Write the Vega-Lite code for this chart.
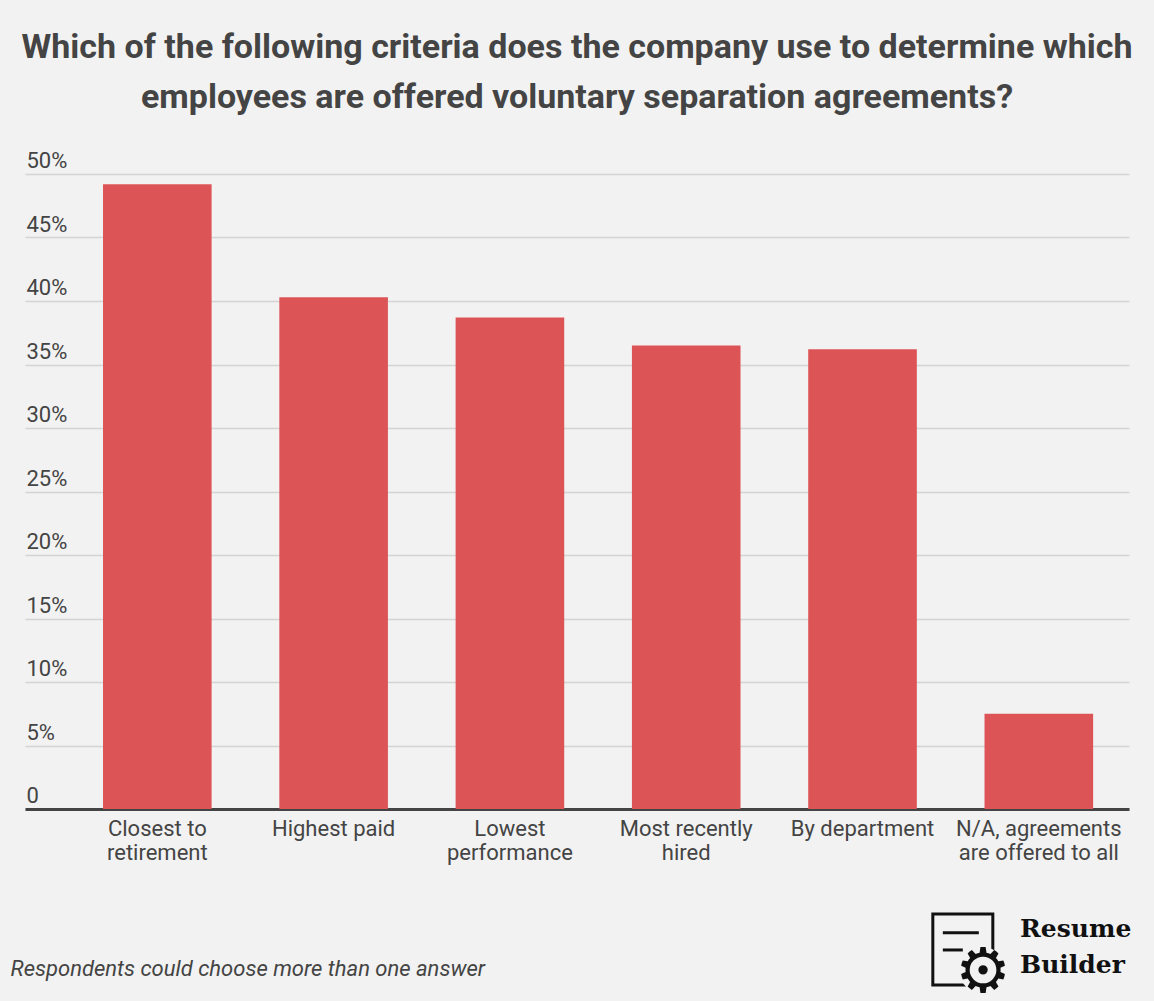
{
  "$schema": "https://vega.github.io/schema/vega-lite/v6.json",
  "width": 1104,
  "height": 635,
  "autosize": {"type": "none"},
  "padding": {"left": 25, "top": 174, "right": 25, "bottom": 192},
  "background": "#f2f2f2",
  "config": {"view": {"stroke": null}},
  "title": {
    "text": ["Which of the following criteria does the company use to determine which", "employees are offered voluntary separation agreements?"],
    "font": "Roboto",
    "fontSize": 34,
    "fontWeight": "bold",
    "color": "#444444",
    "anchor": "middle",
    "lineHeight": 50,
    "offset": 35
  },
  "data": {
    "values": [
      {"criterion": "Closest to\nretirement", "percent": 49.2},
      {"criterion": "Highest paid", "percent": 40.3},
      {"criterion": "Lowest\nperformance", "percent": 38.7},
      {"criterion": "Most recently\nhired", "percent": 36.5},
      {"criterion": "By department", "percent": 36.2},
      {"criterion": "N/A, agreements\nare offered to all", "percent": 7.5}
    ]
  },
  "layer": [
    {
      "mark": {"type": "bar", "color": "#dd5457"},
      "encoding": {
        "x": {
          "field": "criterion",
          "type": "nominal",
          "sort": null,
          "scale": {"paddingInner": 0.384, "paddingOuter": 0.323, "align": 0.685},
          "axis": {
            "title": "Respondents could choose more than one answer",
            "titleFont": "Roboto",
            "titleFontStyle": "italic",
            "titleFontWeight": "normal",
            "titleFontSize": 22,
            "titleColor": "#444444",
            "titleAnchor": "start",
            "titleAlign": "left",
            "titleBaseline": "alphabetic",
            "titleX": -15,
            "titleY": 166,
            "domainColor": "#444444",
            "domainWidth": 3,
            "ticks": false,
            "labelAngle": 0,
            "labelFont": "Roboto",
            "labelFontSize": 22,
            "labelColor": "#444444",
            "labelPadding": 9,
            "labelLineHeight": 24,
            "labelBaseline": "top",
            "labelExpr": "split(datum.label, '\\n')"
          }
        },
        "y": {
          "field": "percent",
          "type": "quantitative",
          "scale": {"domain": [0, 50]},
          "axis": {
            "title": null,
            "values": [0, 5, 10, 15, 20, 25, 30, 35, 40, 45, 50],
            "domain": false,
            "ticks": false,
            "grid": true,
            "gridColor": "#d4d4d4",
            "gridWidth": 1.5,
            "labelAlign": "left",
            "labelBaseline": "alphabetic",
            "labelPadding": -1,
            "labelOffset": -6.5,
            "labelFont": "Roboto",
            "labelFontSize": 22,
            "labelColor": "#444444",
            "labelExpr": "datum.value == 0 ? '0' : datum.value + '%'"
          }
        }
      }
    },
    {
      "data": {"values": [{"brand": "Resume Builder"}]},
      "layer": [
        {
          "mark": {"type": "rect", "filled": false, "stroke": "#111111", "strokeWidth": 3, "xOffset": -106, "x2Offset": -46},
          "encoding": {
            "x": {"datum": "N/A, agreements\nare offered to all"},
            "x2": {"datum": "N/A, agreements\nare offered to all"},
            "y": {"datum": -8.27},
            "y2": {"datum": -13.86}
          }
        },
        {
          "mark": {"type": "rule", "stroke": "#111111", "strokeWidth": 3, "xOffset": -96, "x2Offset": -60},
          "encoding": {
            "x": {"datum": "N/A, agreements\nare offered to all"},
            "x2": {"datum": "N/A, agreements\nare offered to all"},
            "y": {"datum": -9.74}
          }
        },
        {
          "mark": {"type": "rule", "stroke": "#111111", "strokeWidth": 3, "xOffset": -96, "x2Offset": -76},
          "encoding": {
            "x": {"datum": "N/A, agreements\nare offered to all"},
            "x2": {"datum": "N/A, agreements\nare offered to all"},
            "y": {"datum": -11.1}
          }
        },
        {
          "mark": {"type": "point", "filled": true, "color": "#f2f2f2", "opacity": 1, "size": 2200, "xOffset": -1.5},
          "encoding": {
            "x": {"datum": "N/A, agreements\nare offered to all", "bandPosition": 0},
            "y": {"datum": -12.73}
          }
        },
        {
          "mark": {"type": "text", "text": "⚙", "font": "DejaVu Sans", "fontSize": 62, "color": "#111111", "align": "center", "baseline": "middle", "dx": -1.5, "dy": 2},
          "encoding": {
            "x": {"datum": "N/A, agreements\nare offered to all", "bandPosition": 0},
            "y": {"datum": -12.73}
          }
        },
        {
          "mark": {"type": "text", "font": "DejaVu Serif", "fontWeight": "bold", "fontSize": 25, "color": "#111111", "align": "left", "baseline": "alphabetic", "dx": 35.5},
          "encoding": {
            "x": {"datum": "N/A, agreements\nare offered to all", "bandPosition": 0},
            "y": {"datum": -10.05},
            "text": {"value": "Resume"}
          }
        },
        {
          "mark": {"type": "text", "font": "DejaVu Serif", "fontWeight": "bold", "fontSize": 25, "color": "#111111", "align": "left", "baseline": "alphabetic", "dx": 35.5},
          "encoding": {
            "x": {"datum": "N/A, agreements\nare offered to all", "bandPosition": 0},
            "y": {"datum": -12.9},
            "text": {"value": "Builder"}
          }
        }
      ]
    }
  ]
}
